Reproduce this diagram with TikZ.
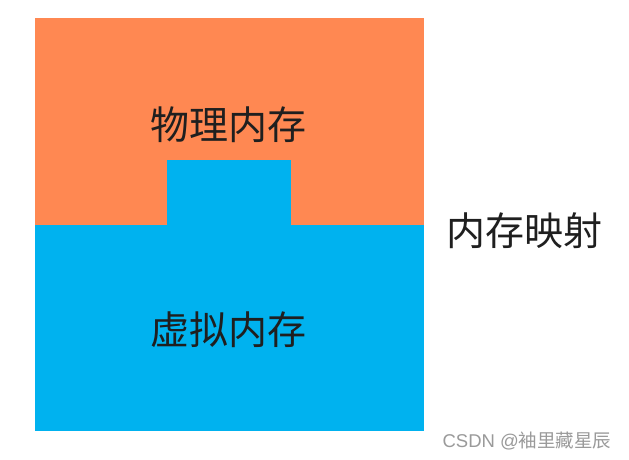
\documentclass[tikz,border=0pt]{standalone}
\usepackage{fontspec}
\setmainfont{Noto Sans CJK SC}
\newfontfamily\cjk{Noto Sans CJK SC}
\newfontfamily\lat{Liberation Sans}
\definecolor{orng}{HTML}{FF8852}
\definecolor{skyb}{HTML}{00B2EF}
\definecolor{wm}{HTML}{9A9A9A}
\begin{document}
\begin{tikzpicture}[x=1pt,y=-1pt,
  big/.style={font=\cjk\fontsize{39}{42}\selectfont, text=black!88, inner sep=0pt},
  wmtext/.style={font=\cjk\fontsize{18.5}{21}\selectfont, text=wm, inner sep=0pt}]
\useasboundingbox (0,0) rectangle (629,460);
\fill[white] (0,0) rectangle (629,460);
\fill[orng] (35,18) rectangle (424,225);
\fill[skyb] (35,225) rectangle (424,431);
\fill[skyb] (167,160) rectangle (291,226);
\node[big] (phys) at (228,125) {物理内存};
\node[big] (virt) at (228,330) {虚拟内存};
\node[big] (map) at (524,231) {内存映射};
\node[wmtext] (wmk) at (527,441) {{\lat CSDN @}袖里藏星辰};
\end{tikzpicture}
\end{document}
